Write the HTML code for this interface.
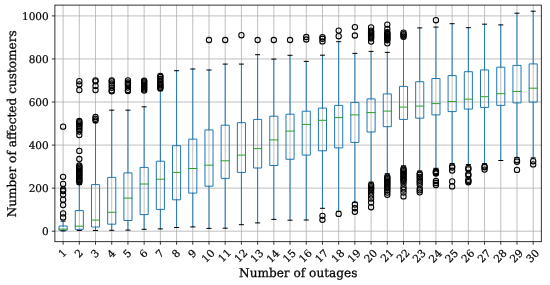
<!DOCTYPE html>
<html><head><meta charset="utf-8"><style>
html,body{margin:0;padding:0;background:#fff;width:550px;height:285px;overflow:hidden}
svg{display:block;text-rendering:geometricPrecision}
</style></head><body>
<svg width="550" height="285" viewBox="0 0 550 285">
<rect width="550" height="285" fill="#fff"/>
<path d="M63.1 5.1V241.7M79.31 5.1V241.7M95.52 5.1V241.7M111.73 5.1V241.7M127.94 5.1V241.7M144.15 5.1V241.7M160.36 5.1V241.7M176.57 5.1V241.7M192.78 5.1V241.7M208.99 5.1V241.7M225.2 5.1V241.7M241.41 5.1V241.7M257.62 5.1V241.7M273.83 5.1V241.7M290.04 5.1V241.7M306.25 5.1V241.7M322.46 5.1V241.7M338.67 5.1V241.7M354.88 5.1V241.7M371.09 5.1V241.7M387.3 5.1V241.7M403.51 5.1V241.7M419.72 5.1V241.7M435.93 5.1V241.7M452.14 5.1V241.7M468.35 5.1V241.7M484.56 5.1V241.7M500.77 5.1V241.7M516.98 5.1V241.7M533.19 5.1V241.7M54.9 231.2H541.3M54.9 188.14H541.3M54.9 145.08H541.3M54.9 102.02H541.3M54.9 58.96H541.3M54.9 15.9H541.3" stroke="#b0b0b0" stroke-width="0.8" fill="none"/>
<rect x="59.05" y="226" width="8.1" height="4.2" stroke="#1f77b4" stroke-width="1.0" stroke-linejoin="round" fill="none"/>
<path d="M63.1 230.2V230.9M63.1 226V221.1" stroke="#1f77b4" stroke-width="1.0" stroke-linecap="square" fill="none"/>
<path d="M61.08 230.9H65.12M61.08 221.1H65.12" stroke="#000" stroke-width="1.0" stroke-linecap="square" fill="none"/>
<g fill="none" stroke="#000" stroke-width="1.05"><circle cx="63.1" cy="126.7" r="2.65"/><circle cx="63.1" cy="176.8" r="2.65"/><circle cx="63.1" cy="183.9" r="2.65"/><circle cx="63.1" cy="189.5" r="2.65"/><circle cx="63.1" cy="191" r="2.65"/><circle cx="63.1" cy="194.6" r="2.65"/><circle cx="63.1" cy="199.7" r="2.65"/><circle cx="63.1" cy="205" r="2.65"/><circle cx="63.1" cy="213.4" r="2.65"/><circle cx="63.1" cy="217.4" r="2.65"/></g>
<rect x="75.26" y="210.6" width="8.1" height="18.8" stroke="#1f77b4" stroke-width="1.0" stroke-linejoin="round" fill="none"/>
<path d="M79.31 229.4V230.5M79.31 210.6V184.5" stroke="#1f77b4" stroke-width="1.0" stroke-linecap="square" fill="none"/>
<path d="M77.28 230.5H81.34M77.28 184.5H81.34" stroke="#000" stroke-width="1.0" stroke-linecap="square" fill="none"/>
<g fill="none" stroke="#000" stroke-width="1.05"><circle cx="79.31" cy="81.2" r="2.65"/><circle cx="79.31" cy="84.4" r="2.65"/><circle cx="79.31" cy="90" r="2.65"/><circle cx="79.31" cy="121" r="2.65"/><circle cx="79.31" cy="122.2" r="2.65"/><circle cx="79.31" cy="123.4" r="2.65"/><circle cx="79.31" cy="124.6" r="2.65"/><circle cx="79.31" cy="126" r="2.65"/><circle cx="79.31" cy="127.5" r="2.65"/><circle cx="79.31" cy="129.2" r="2.65"/><circle cx="79.31" cy="131.5" r="2.65"/><circle cx="79.31" cy="135" r="2.65"/><circle cx="79.31" cy="150.9" r="2.65"/><circle cx="79.31" cy="159" r="2.65"/><circle cx="79.31" cy="165.5" r="2.65"/><circle cx="79.31" cy="166.7" r="2.65"/><circle cx="79.31" cy="167.9" r="2.65"/><circle cx="79.31" cy="169.1" r="2.65"/><circle cx="79.31" cy="170.3" r="2.65"/><circle cx="79.31" cy="171.5" r="2.65"/><circle cx="79.31" cy="172.7" r="2.65"/><circle cx="79.31" cy="173.9" r="2.65"/><circle cx="79.31" cy="175.1" r="2.65"/><circle cx="79.31" cy="176.3" r="2.65"/><circle cx="79.31" cy="177.5" r="2.65"/><circle cx="79.31" cy="178.7" r="2.65"/><circle cx="79.31" cy="179.9" r="2.65"/><circle cx="79.31" cy="181.1" r="2.65"/><circle cx="79.31" cy="182.3" r="2.65"/></g>
<rect x="91.47" y="184.6" width="8.1" height="42.4" stroke="#1f77b4" stroke-width="1.0" stroke-linejoin="round" fill="none"/>
<path d="M95.52 227V230.5M95.52 184.6V122.5" stroke="#1f77b4" stroke-width="1.0" stroke-linecap="square" fill="none"/>
<path d="M93.5 230.5H97.55M93.5 122.5H97.55" stroke="#000" stroke-width="1.0" stroke-linecap="square" fill="none"/>
<g fill="none" stroke="#000" stroke-width="1.05"><circle cx="95.52" cy="80.4" r="2.65"/><circle cx="95.52" cy="81.3" r="2.65"/><circle cx="95.52" cy="85.9" r="2.65"/><circle cx="95.52" cy="90.1" r="2.65"/><circle cx="95.52" cy="117" r="2.65"/><circle cx="95.52" cy="118.8" r="2.65"/><circle cx="95.52" cy="120.5" r="2.65"/></g>
<rect x="107.68" y="177.4" width="8.1" height="46.8" stroke="#1f77b4" stroke-width="1.0" stroke-linejoin="round" fill="none"/>
<path d="M111.73 224.2V230.3M111.73 177.4V110.2" stroke="#1f77b4" stroke-width="1.0" stroke-linecap="square" fill="none"/>
<path d="M109.7 230.3H113.76M109.7 110.2H113.76" stroke="#000" stroke-width="1.0" stroke-linecap="square" fill="none"/>
<g fill="none" stroke="#000" stroke-width="1.05"><circle cx="111.73" cy="80.4" r="2.65"/><circle cx="111.73" cy="81.3" r="2.65"/><circle cx="111.73" cy="83.5" r="2.65"/><circle cx="111.73" cy="85.6" r="2.65"/><circle cx="111.73" cy="87.7" r="2.65"/><circle cx="111.73" cy="90.4" r="2.65"/><circle cx="111.73" cy="91.2" r="2.65"/></g>
<rect x="123.89" y="172.9" width="8.1" height="47.6" stroke="#1f77b4" stroke-width="1.0" stroke-linejoin="round" fill="none"/>
<path d="M127.94 220.5V230.1M127.94 172.9V110.2" stroke="#1f77b4" stroke-width="1.0" stroke-linecap="square" fill="none"/>
<path d="M125.91 230.1H129.97M125.91 110.2H129.97" stroke="#000" stroke-width="1.0" stroke-linecap="square" fill="none"/>
<g fill="none" stroke="#000" stroke-width="1.05"><circle cx="127.94" cy="80.4" r="2.65"/><circle cx="127.94" cy="82.5" r="2.65"/><circle cx="127.94" cy="84" r="2.65"/><circle cx="127.94" cy="85.1" r="2.65"/><circle cx="127.94" cy="87.6" r="2.65"/><circle cx="127.94" cy="90.1" r="2.65"/><circle cx="127.94" cy="91" r="2.65"/></g>
<rect x="140.1" y="167.4" width="8.1" height="47.2" stroke="#1f77b4" stroke-width="1.0" stroke-linejoin="round" fill="none"/>
<path d="M144.15 214.6V229.3M144.15 167.4V106.8" stroke="#1f77b4" stroke-width="1.0" stroke-linecap="square" fill="none"/>
<path d="M142.12 229.3H146.18M142.12 106.8H146.18" stroke="#000" stroke-width="1.0" stroke-linecap="square" fill="none"/>
<g fill="none" stroke="#000" stroke-width="1.05"><circle cx="144.15" cy="80.6" r="2.65"/><circle cx="144.15" cy="81.3" r="2.65"/><circle cx="144.15" cy="82.5" r="2.65"/><circle cx="144.15" cy="83.66" r="2.65"/><circle cx="144.15" cy="84.81" r="2.65"/><circle cx="144.15" cy="85.97" r="2.65"/><circle cx="144.15" cy="87.13" r="2.65"/><circle cx="144.15" cy="88.29" r="2.65"/><circle cx="144.15" cy="89.44" r="2.65"/><circle cx="144.15" cy="90.6" r="2.65"/></g>
<rect x="156.31" y="161.2" width="8.1" height="48.2" stroke="#1f77b4" stroke-width="1.0" stroke-linejoin="round" fill="none"/>
<path d="M160.36 209.4V228.9M160.36 161.2V90.8" stroke="#1f77b4" stroke-width="1.0" stroke-linecap="square" fill="none"/>
<path d="M158.34 228.9H162.39M158.34 90.8H162.39" stroke="#000" stroke-width="1.0" stroke-linecap="square" fill="none"/>
<g fill="none" stroke="#000" stroke-width="1.05"><circle cx="160.36" cy="75.9" r="2.65"/><circle cx="160.36" cy="77" r="2.65"/><circle cx="160.36" cy="79" r="2.65"/><circle cx="160.36" cy="80.5" r="2.65"/><circle cx="160.36" cy="82.5" r="2.65"/><circle cx="160.36" cy="84" r="2.65"/><circle cx="160.36" cy="85.2" r="2.65"/><circle cx="160.36" cy="86.5" r="2.65"/><circle cx="160.36" cy="87.8" r="2.65"/><circle cx="160.36" cy="88.3" r="2.65"/></g>
<rect x="172.52" y="145.7" width="8.1" height="54.1" stroke="#1f77b4" stroke-width="1.0" stroke-linejoin="round" fill="none"/>
<path d="M176.57 199.8V227.5M176.57 145.7V70.7" stroke="#1f77b4" stroke-width="1.0" stroke-linecap="square" fill="none"/>
<path d="M174.54 227.5H178.59M174.54 70.7H178.59" stroke="#000" stroke-width="1.0" stroke-linecap="square" fill="none"/>
<rect x="188.73" y="139.1" width="8.1" height="54" stroke="#1f77b4" stroke-width="1.0" stroke-linejoin="round" fill="none"/>
<path d="M192.78 193.1V226.9M192.78 139.1V69" stroke="#1f77b4" stroke-width="1.0" stroke-linecap="square" fill="none"/>
<path d="M190.75 226.9H194.81M190.75 69H194.81" stroke="#000" stroke-width="1.0" stroke-linecap="square" fill="none"/>
<rect x="204.94" y="129.9" width="8.1" height="56.3" stroke="#1f77b4" stroke-width="1.0" stroke-linejoin="round" fill="none"/>
<path d="M208.99 186.2V228.4M208.99 129.9V70" stroke="#1f77b4" stroke-width="1.0" stroke-linecap="square" fill="none"/>
<path d="M206.97 228.4H211.02M206.97 70H211.02" stroke="#000" stroke-width="1.0" stroke-linecap="square" fill="none"/>
<g fill="none" stroke="#000" stroke-width="1.05"><circle cx="208.99" cy="40" r="2.65"/></g>
<rect x="221.15" y="125.2" width="8.1" height="53.2" stroke="#1f77b4" stroke-width="1.0" stroke-linejoin="round" fill="none"/>
<path d="M225.2 178.4V228.2M225.2 125.2V64.1" stroke="#1f77b4" stroke-width="1.0" stroke-linecap="square" fill="none"/>
<path d="M223.18 228.2H227.23M223.18 64.1H227.23" stroke="#000" stroke-width="1.0" stroke-linecap="square" fill="none"/>
<g fill="none" stroke="#000" stroke-width="1.05"><circle cx="225.2" cy="40" r="2.65"/></g>
<rect x="237.36" y="122.7" width="8.1" height="49.7" stroke="#1f77b4" stroke-width="1.0" stroke-linejoin="round" fill="none"/>
<path d="M241.41 172.4V224.7M241.41 122.7V64.1" stroke="#1f77b4" stroke-width="1.0" stroke-linecap="square" fill="none"/>
<path d="M239.38 224.7H243.44M239.38 64.1H243.44" stroke="#000" stroke-width="1.0" stroke-linecap="square" fill="none"/>
<g fill="none" stroke="#000" stroke-width="1.05"><circle cx="241.41" cy="35.2" r="2.65"/></g>
<rect x="253.57" y="119.4" width="8.1" height="48.6" stroke="#1f77b4" stroke-width="1.0" stroke-linejoin="round" fill="none"/>
<path d="M257.62 168V222.9M257.62 119.4V54.7" stroke="#1f77b4" stroke-width="1.0" stroke-linecap="square" fill="none"/>
<path d="M255.59 222.9H259.64M255.59 54.7H259.64" stroke="#000" stroke-width="1.0" stroke-linecap="square" fill="none"/>
<g fill="none" stroke="#000" stroke-width="1.05"><circle cx="257.62" cy="40" r="2.65"/></g>
<rect x="269.78" y="116.2" width="8.1" height="49.3" stroke="#1f77b4" stroke-width="1.0" stroke-linejoin="round" fill="none"/>
<path d="M273.83 165.5V219.4M273.83 116.2V59.1" stroke="#1f77b4" stroke-width="1.0" stroke-linecap="square" fill="none"/>
<path d="M271.81 219.4H275.86M271.81 59.1H275.86" stroke="#000" stroke-width="1.0" stroke-linecap="square" fill="none"/>
<g fill="none" stroke="#000" stroke-width="1.05"><circle cx="273.83" cy="40" r="2.65"/></g>
<rect x="285.99" y="114.2" width="8.1" height="45.1" stroke="#1f77b4" stroke-width="1.0" stroke-linejoin="round" fill="none"/>
<path d="M290.04 159.3V220.2M290.04 114.2V55.3" stroke="#1f77b4" stroke-width="1.0" stroke-linecap="square" fill="none"/>
<path d="M288.02 220.2H292.06M288.02 55.3H292.06" stroke="#000" stroke-width="1.0" stroke-linecap="square" fill="none"/>
<g fill="none" stroke="#000" stroke-width="1.05"><circle cx="290.04" cy="40" r="2.65"/></g>
<rect x="302.2" y="111.2" width="8.1" height="43.9" stroke="#1f77b4" stroke-width="1.0" stroke-linejoin="round" fill="none"/>
<path d="M306.25 155.1V220M306.25 111.2V61.4" stroke="#1f77b4" stroke-width="1.0" stroke-linecap="square" fill="none"/>
<path d="M304.23 220H308.27M304.23 61.4H308.27" stroke="#000" stroke-width="1.0" stroke-linecap="square" fill="none"/>
<g fill="none" stroke="#000" stroke-width="1.05"><circle cx="306.25" cy="37" r="2.65"/><circle cx="306.25" cy="39.5" r="2.65"/></g>
<rect x="318.41" y="108.1" width="8.1" height="42.7" stroke="#1f77b4" stroke-width="1.0" stroke-linejoin="round" fill="none"/>
<path d="M322.46 150.8V208.3M322.46 108.1V55.2" stroke="#1f77b4" stroke-width="1.0" stroke-linecap="square" fill="none"/>
<path d="M320.44 208.3H324.49M320.44 55.2H324.49" stroke="#000" stroke-width="1.0" stroke-linecap="square" fill="none"/>
<g fill="none" stroke="#000" stroke-width="1.05"><circle cx="322.46" cy="37.2" r="2.65"/><circle cx="322.46" cy="38.8" r="2.65"/><circle cx="322.46" cy="41.4" r="2.65"/><circle cx="322.46" cy="215.8" r="2.65"/><circle cx="322.46" cy="219.8" r="2.65"/></g>
<rect x="334.62" y="105.4" width="8.1" height="42.5" stroke="#1f77b4" stroke-width="1.0" stroke-linejoin="round" fill="none"/>
<path d="M338.67 147.9V211.3M338.67 105.4V41.7" stroke="#1f77b4" stroke-width="1.0" stroke-linecap="square" fill="none"/>
<path d="M336.65 211.3H340.69M336.65 41.7H340.69" stroke="#000" stroke-width="1.0" stroke-linecap="square" fill="none"/>
<g fill="none" stroke="#000" stroke-width="1.05"><circle cx="338.67" cy="30.6" r="2.65"/><circle cx="338.67" cy="36.2" r="2.65"/><circle cx="338.67" cy="213.9" r="2.65"/></g>
<rect x="350.83" y="102.4" width="8.1" height="40" stroke="#1f77b4" stroke-width="1.0" stroke-linejoin="round" fill="none"/>
<path d="M354.88 142.4V202.4M354.88 102.4V53.4" stroke="#1f77b4" stroke-width="1.0" stroke-linecap="square" fill="none"/>
<path d="M352.86 202.4H356.91M352.86 53.4H356.91" stroke="#000" stroke-width="1.0" stroke-linecap="square" fill="none"/>
<g fill="none" stroke="#000" stroke-width="1.05"><circle cx="354.88" cy="27.1" r="2.65"/><circle cx="354.88" cy="35.5" r="2.65"/><circle cx="354.88" cy="204.5" r="2.65"/><circle cx="354.88" cy="208.2" r="2.65"/><circle cx="354.88" cy="211.8" r="2.65"/></g>
<rect x="367.04" y="98.9" width="8.1" height="33.1" stroke="#1f77b4" stroke-width="1.0" stroke-linejoin="round" fill="none"/>
<path d="M371.09 132V182.1M371.09 98.9V51.4" stroke="#1f77b4" stroke-width="1.0" stroke-linecap="square" fill="none"/>
<path d="M369.07 182.1H373.12M369.07 51.4H373.12" stroke="#000" stroke-width="1.0" stroke-linecap="square" fill="none"/>
<g fill="none" stroke="#000" stroke-width="1.05"><circle cx="371.09" cy="27.4" r="2.65"/><circle cx="371.09" cy="30.6" r="2.65"/><circle cx="371.09" cy="31.6" r="2.65"/><circle cx="371.09" cy="32.6" r="2.65"/><circle cx="371.09" cy="33.6" r="2.65"/><circle cx="371.09" cy="34.6" r="2.65"/><circle cx="371.09" cy="35.6" r="2.65"/><circle cx="371.09" cy="36.6" r="2.65"/><circle cx="371.09" cy="37.6" r="2.65"/><circle cx="371.09" cy="38.4" r="2.65"/><circle cx="371.09" cy="41.6" r="2.65"/><circle cx="371.09" cy="184.8" r="2.65"/><circle cx="371.09" cy="186.1" r="2.65"/><circle cx="371.09" cy="187.4" r="2.65"/><circle cx="371.09" cy="188.7" r="2.65"/><circle cx="371.09" cy="190" r="2.65"/><circle cx="371.09" cy="192.6" r="2.65"/><circle cx="371.09" cy="195.6" r="2.65"/><circle cx="371.09" cy="198.6" r="2.65"/><circle cx="371.09" cy="202.5" r="2.65"/><circle cx="371.09" cy="207.2" r="2.65"/></g>
<rect x="383.25" y="93.9" width="8.1" height="32.8" stroke="#1f77b4" stroke-width="1.0" stroke-linejoin="round" fill="none"/>
<path d="M387.3 126.7V173.7M387.3 93.9V52.4" stroke="#1f77b4" stroke-width="1.0" stroke-linecap="square" fill="none"/>
<path d="M385.28 173.7H389.33M385.28 52.4H389.33" stroke="#000" stroke-width="1.0" stroke-linecap="square" fill="none"/>
<g fill="none" stroke="#000" stroke-width="1.05"><circle cx="387.3" cy="24.6" r="2.65"/><circle cx="387.3" cy="29" r="2.65"/><circle cx="387.3" cy="32.2" r="2.65"/><circle cx="387.3" cy="33.2" r="2.65"/><circle cx="387.3" cy="34.2" r="2.65"/><circle cx="387.3" cy="35.2" r="2.65"/><circle cx="387.3" cy="36.2" r="2.65"/><circle cx="387.3" cy="37.2" r="2.65"/><circle cx="387.3" cy="38.2" r="2.65"/><circle cx="387.3" cy="39.2" r="2.65"/><circle cx="387.3" cy="40.2" r="2.65"/><circle cx="387.3" cy="43.3" r="2.65"/><circle cx="387.3" cy="176.7" r="2.65"/><circle cx="387.3" cy="177.92" r="2.65"/><circle cx="387.3" cy="179.13" r="2.65"/><circle cx="387.3" cy="180.35" r="2.65"/><circle cx="387.3" cy="181.57" r="2.65"/><circle cx="387.3" cy="182.78" r="2.65"/><circle cx="387.3" cy="184" r="2.65"/><circle cx="387.3" cy="185.5" r="2.65"/><circle cx="387.3" cy="187" r="2.65"/><circle cx="387.3" cy="188.5" r="2.65"/><circle cx="387.3" cy="190.5" r="2.65"/><circle cx="387.3" cy="192.5" r="2.65"/><circle cx="387.3" cy="194.8" r="2.65"/></g>
<rect x="399.46" y="86.4" width="8.1" height="33" stroke="#1f77b4" stroke-width="1.0" stroke-linejoin="round" fill="none"/>
<path d="M403.51 119.4V165.8M403.51 86.4V38" stroke="#1f77b4" stroke-width="1.0" stroke-linecap="square" fill="none"/>
<path d="M401.49 165.8H405.54M401.49 38H405.54" stroke="#000" stroke-width="1.0" stroke-linecap="square" fill="none"/>
<g fill="none" stroke="#000" stroke-width="1.05"><circle cx="403.51" cy="32.7" r="2.65"/><circle cx="403.51" cy="34.07" r="2.65"/><circle cx="403.51" cy="35.43" r="2.65"/><circle cx="403.51" cy="36.8" r="2.65"/><circle cx="403.51" cy="168.7" r="2.65"/><circle cx="403.51" cy="169.93" r="2.65"/><circle cx="403.51" cy="171.16" r="2.65"/><circle cx="403.51" cy="172.39" r="2.65"/><circle cx="403.51" cy="173.62" r="2.65"/><circle cx="403.51" cy="174.85" r="2.65"/><circle cx="403.51" cy="176.08" r="2.65"/><circle cx="403.51" cy="177.31" r="2.65"/><circle cx="403.51" cy="178.54" r="2.65"/><circle cx="403.51" cy="179.77" r="2.65"/><circle cx="403.51" cy="181" r="2.65"/><circle cx="403.51" cy="183.5" r="2.65"/><circle cx="403.51" cy="187.1" r="2.65"/><circle cx="403.51" cy="189.5" r="2.65"/><circle cx="403.51" cy="192.5" r="2.65"/><circle cx="403.51" cy="196.4" r="2.65"/></g>
<rect x="415.67" y="81.7" width="8.1" height="36.5" stroke="#1f77b4" stroke-width="1.0" stroke-linejoin="round" fill="none"/>
<path d="M419.72 118.2V171M419.72 81.7V27.9" stroke="#1f77b4" stroke-width="1.0" stroke-linecap="square" fill="none"/>
<path d="M417.7 171H421.75M417.7 27.9H421.75" stroke="#000" stroke-width="1.0" stroke-linecap="square" fill="none"/>
<g fill="none" stroke="#000" stroke-width="1.05"><circle cx="419.72" cy="173.6" r="2.65"/><circle cx="419.72" cy="174.8" r="2.65"/><circle cx="419.72" cy="176.9" r="2.65"/><circle cx="419.72" cy="178.5" r="2.65"/><circle cx="419.72" cy="180.8" r="2.65"/><circle cx="419.72" cy="182.5" r="2.65"/><circle cx="419.72" cy="184.7" r="2.65"/><circle cx="419.72" cy="188.6" r="2.65"/><circle cx="419.72" cy="190.3" r="2.65"/><circle cx="419.72" cy="192.3" r="2.65"/></g>
<rect x="431.88" y="78.5" width="8.1" height="36.4" stroke="#1f77b4" stroke-width="1.0" stroke-linejoin="round" fill="none"/>
<path d="M435.93 114.9V168.3M435.93 78.5V27.1" stroke="#1f77b4" stroke-width="1.0" stroke-linecap="square" fill="none"/>
<path d="M433.91 168.3H437.96M433.91 27.1H437.96" stroke="#000" stroke-width="1.0" stroke-linecap="square" fill="none"/>
<g fill="none" stroke="#000" stroke-width="1.05"><circle cx="435.93" cy="20.2" r="2.65"/><circle cx="435.93" cy="171.2" r="2.65"/><circle cx="435.93" cy="172" r="2.65"/><circle cx="435.93" cy="172.8" r="2.65"/><circle cx="435.93" cy="173.6" r="2.65"/><circle cx="435.93" cy="181" r="2.65"/><circle cx="435.93" cy="183" r="2.65"/><circle cx="435.93" cy="185" r="2.65"/></g>
<rect x="448.09" y="75.6" width="8.1" height="36" stroke="#1f77b4" stroke-width="1.0" stroke-linejoin="round" fill="none"/>
<path d="M452.14 111.6V163.6M452.14 75.6V23.7" stroke="#1f77b4" stroke-width="1.0" stroke-linecap="square" fill="none"/>
<path d="M450.12 163.6H454.17M450.12 23.7H454.17" stroke="#000" stroke-width="1.0" stroke-linecap="square" fill="none"/>
<g fill="none" stroke="#000" stroke-width="1.05"><circle cx="452.14" cy="166.3" r="2.65"/><circle cx="452.14" cy="167.5" r="2.65"/><circle cx="452.14" cy="170.6" r="2.65"/><circle cx="452.14" cy="181.4" r="2.65"/><circle cx="452.14" cy="186.4" r="2.65"/></g>
<rect x="464.3" y="71.7" width="8.1" height="37.4" stroke="#1f77b4" stroke-width="1.0" stroke-linejoin="round" fill="none"/>
<path d="M468.35 109.1V164.5M468.35 71.7V27.7" stroke="#1f77b4" stroke-width="1.0" stroke-linecap="square" fill="none"/>
<path d="M466.33 164.5H470.38M466.33 27.7H470.38" stroke="#000" stroke-width="1.0" stroke-linecap="square" fill="none"/>
<g fill="none" stroke="#000" stroke-width="1.05"><circle cx="468.35" cy="168" r="2.65"/><circle cx="468.35" cy="169.3" r="2.65"/><circle cx="468.35" cy="174.2" r="2.65"/><circle cx="468.35" cy="175.5" r="2.65"/><circle cx="468.35" cy="179.8" r="2.65"/><circle cx="468.35" cy="181.1" r="2.65"/><circle cx="468.35" cy="182.2" r="2.65"/></g>
<rect x="480.51" y="69.9" width="8.1" height="37.5" stroke="#1f77b4" stroke-width="1.0" stroke-linejoin="round" fill="none"/>
<path d="M484.56 107.4V163.7M484.56 69.9V24.2" stroke="#1f77b4" stroke-width="1.0" stroke-linecap="square" fill="none"/>
<path d="M482.54 163.7H486.59M482.54 24.2H486.59" stroke="#000" stroke-width="1.0" stroke-linecap="square" fill="none"/>
<g fill="none" stroke="#000" stroke-width="1.05"><circle cx="484.56" cy="166.4" r="2.65"/><circle cx="484.56" cy="167.2" r="2.65"/><circle cx="484.56" cy="169.6" r="2.65"/></g>
<rect x="496.72" y="67.2" width="8.1" height="38.2" stroke="#1f77b4" stroke-width="1.0" stroke-linejoin="round" fill="none"/>
<path d="M500.77 105.4V160.5M500.77 67.2V24.9" stroke="#1f77b4" stroke-width="1.0" stroke-linecap="square" fill="none"/>
<path d="M498.75 160.5H502.8M498.75 24.9H502.8" stroke="#000" stroke-width="1.0" stroke-linecap="square" fill="none"/>
<rect x="512.93" y="65.4" width="8.1" height="37.5" stroke="#1f77b4" stroke-width="1.0" stroke-linejoin="round" fill="none"/>
<path d="M516.98 102.9V157.4M516.98 65.4V13.2" stroke="#1f77b4" stroke-width="1.0" stroke-linecap="square" fill="none"/>
<path d="M514.96 157.4H519M514.96 13.2H519" stroke="#000" stroke-width="1.0" stroke-linecap="square" fill="none"/>
<g fill="none" stroke="#000" stroke-width="1.05"><circle cx="516.98" cy="160.1" r="2.65"/><circle cx="516.98" cy="161.7" r="2.65"/><circle cx="516.98" cy="169.9" r="2.65"/></g>
<rect x="529.14" y="63.9" width="8.1" height="38.2" stroke="#1f77b4" stroke-width="1.0" stroke-linejoin="round" fill="none"/>
<path d="M533.19 102.1V157.9M533.19 63.9V11.2" stroke="#1f77b4" stroke-width="1.0" stroke-linecap="square" fill="none"/>
<path d="M531.17 157.9H535.22M531.17 11.2H535.22" stroke="#000" stroke-width="1.0" stroke-linecap="square" fill="none"/>
<g fill="none" stroke="#000" stroke-width="1.05"><circle cx="533.19" cy="161.2" r="2.65"/><circle cx="533.19" cy="164.4" r="2.65"/></g>
<path d="M59.05 229.1H67.15M75.26 226.2H83.36M91.47 220.1H99.57M107.68 212.3H115.78M123.89 198.1H131.99M140.1 184H148.2M156.31 179.2H164.41M172.52 172.4H180.62M188.73 168.5H196.83M204.94 165.2H213.04M221.15 160.8H229.25M237.36 155.1H245.46M253.57 148.6H261.67M269.78 139.9H277.88M285.99 131.1H294.09M302.2 124.4H310.3M318.41 120.3H326.51M334.62 117.6H342.72M350.83 114.9H358.93M367.04 112.6H375.14M383.25 111.1H391.35M399.46 107.1H407.56M415.67 106.1H423.77M431.88 103.6H439.98M448.09 101.5H456.19M464.3 99.2H472.4M480.51 96.7H488.61M496.72 93.7H504.82M512.93 91.4H521.03M529.14 88.2H537.24" stroke="#2ca02c" stroke-width="1.0" stroke-linecap="square" fill="none"/>
<rect x="54.9" y="5.1" width="486.4" height="236.6" fill="none" stroke="#000" stroke-width="0.8"/>
<path d="M63.1 241.7v3.0M79.31 241.7v3.0M95.52 241.7v3.0M111.73 241.7v3.0M127.94 241.7v3.0M144.15 241.7v3.0M160.36 241.7v3.0M176.57 241.7v3.0M192.78 241.7v3.0M208.99 241.7v3.0M225.2 241.7v3.0M241.41 241.7v3.0M257.62 241.7v3.0M273.83 241.7v3.0M290.04 241.7v3.0M306.25 241.7v3.0M322.46 241.7v3.0M338.67 241.7v3.0M354.88 241.7v3.0M371.09 241.7v3.0M387.3 241.7v3.0M403.51 241.7v3.0M419.72 241.7v3.0M435.93 241.7v3.0M452.14 241.7v3.0M468.35 241.7v3.0M484.56 241.7v3.0M500.77 241.7v3.0M516.98 241.7v3.0M533.19 241.7v3.0M54.9 231.2h-3.0M54.9 188.14h-3.0M54.9 145.08h-3.0M54.9 102.02h-3.0M54.9 58.96h-3.0M54.9 15.9h-3.0" stroke="#000" stroke-width="0.8" fill="none"/>
<g style="font-family:'DejaVu Serif',serif;stroke:#000;stroke-width:0.25px;font-size:10.5px;stroke-width:0.2px" fill="#000">
<text x="48.69" y="235.07" text-anchor="end">0</text>
<text x="48.69" y="192.01" text-anchor="end">200</text>
<text x="48.69" y="148.95" text-anchor="end">400</text>
<text x="48.69" y="105.89" text-anchor="end">600</text>
<text x="48.69" y="62.83" text-anchor="end">800</text>
<text x="48.69" y="19.77" text-anchor="end">1000</text>
<text transform="translate(62.39 252.96) rotate(-45)" x="-3.24" y="3.9">1</text>
<text transform="translate(78.6 253.33) rotate(-45)" x="-3.18" y="3.9">2</text>
<text transform="translate(94.81 253.39) rotate(-45)" x="-3.35" y="3.9">3</text>
<text transform="translate(111.02 253.64) rotate(-45)" x="-3.24" y="3.9">4</text>
<text transform="translate(127.23 253.34) rotate(-45)" x="-3.38" y="3.9">5</text>
<text transform="translate(143.44 253.46) rotate(-45)" x="-3.36" y="3.9">6</text>
<text transform="translate(159.65 253.37) rotate(-45)" x="-3.4" y="3.9">7</text>
<text transform="translate(175.86 253.45) rotate(-45)" x="-3.34" y="3.9">8</text>
<text transform="translate(192.07 253.46) rotate(-45)" x="-3.32" y="3.9">9</text>
<text transform="translate(208.28 255.61) rotate(-45)" x="-6.97" y="3.9">10</text>
<text transform="translate(224.49 255.33) rotate(-45)" x="-6.58" y="3.9">11</text>
<text transform="translate(240.7 255.49) rotate(-45)" x="-6.81" y="3.9">12</text>
<text transform="translate(256.91 255.58) rotate(-45)" x="-6.93" y="3.9">13</text>
<text transform="translate(273.12 255.67) rotate(-45)" x="-7.06" y="3.9">14</text>
<text transform="translate(289.33 255.57) rotate(-45)" x="-6.92" y="3.9">15</text>
<text transform="translate(305.54 255.62) rotate(-45)" x="-6.99" y="3.9">16</text>
<text transform="translate(321.75 255.59) rotate(-45)" x="-6.94" y="3.9">17</text>
<text transform="translate(337.96 255.6) rotate(-45)" x="-6.97" y="3.9">18</text>
<text transform="translate(354.17 255.6) rotate(-45)" x="-6.97" y="3.9">19</text>
<text transform="translate(370.38 255.81) rotate(-45)" x="-6.69" y="3.9">20</text>
<text transform="translate(386.59 255.53) rotate(-45)" x="-6.29" y="3.9">21</text>
<text transform="translate(402.8 255.69) rotate(-45)" x="-6.52" y="3.9">22</text>
<text transform="translate(419.01 255.78) rotate(-45)" x="-6.65" y="3.9">23</text>
<text transform="translate(435.22 255.87) rotate(-45)" x="-6.77" y="3.9">24</text>
<text transform="translate(451.43 255.77) rotate(-45)" x="-6.63" y="3.9">25</text>
<text transform="translate(467.64 255.82) rotate(-45)" x="-6.71" y="3.9">26</text>
<text transform="translate(483.85 255.79) rotate(-45)" x="-6.66" y="3.9">27</text>
<text transform="translate(500.06 255.81) rotate(-45)" x="-6.68" y="3.9">28</text>
<text transform="translate(516.27 255.81) rotate(-45)" x="-6.68" y="3.9">29</text>
<text transform="translate(532.48 255.78) rotate(-45)" x="-6.73" y="3.9">30</text>
</g>
<text style="font-family:'DejaVu Serif',serif;stroke:#000;stroke-width:0.25px;font-size:12.12px" x="298.25" y="277.1" text-anchor="middle">Number of outages</text>
<text style="font-family:'DejaVu Serif',serif;stroke:#000;stroke-width:0.25px;font-size:12.12px" transform="translate(16.1 123.8) rotate(-90)" text-anchor="middle">Number of affected customers</text>
</svg>
</body></html>
